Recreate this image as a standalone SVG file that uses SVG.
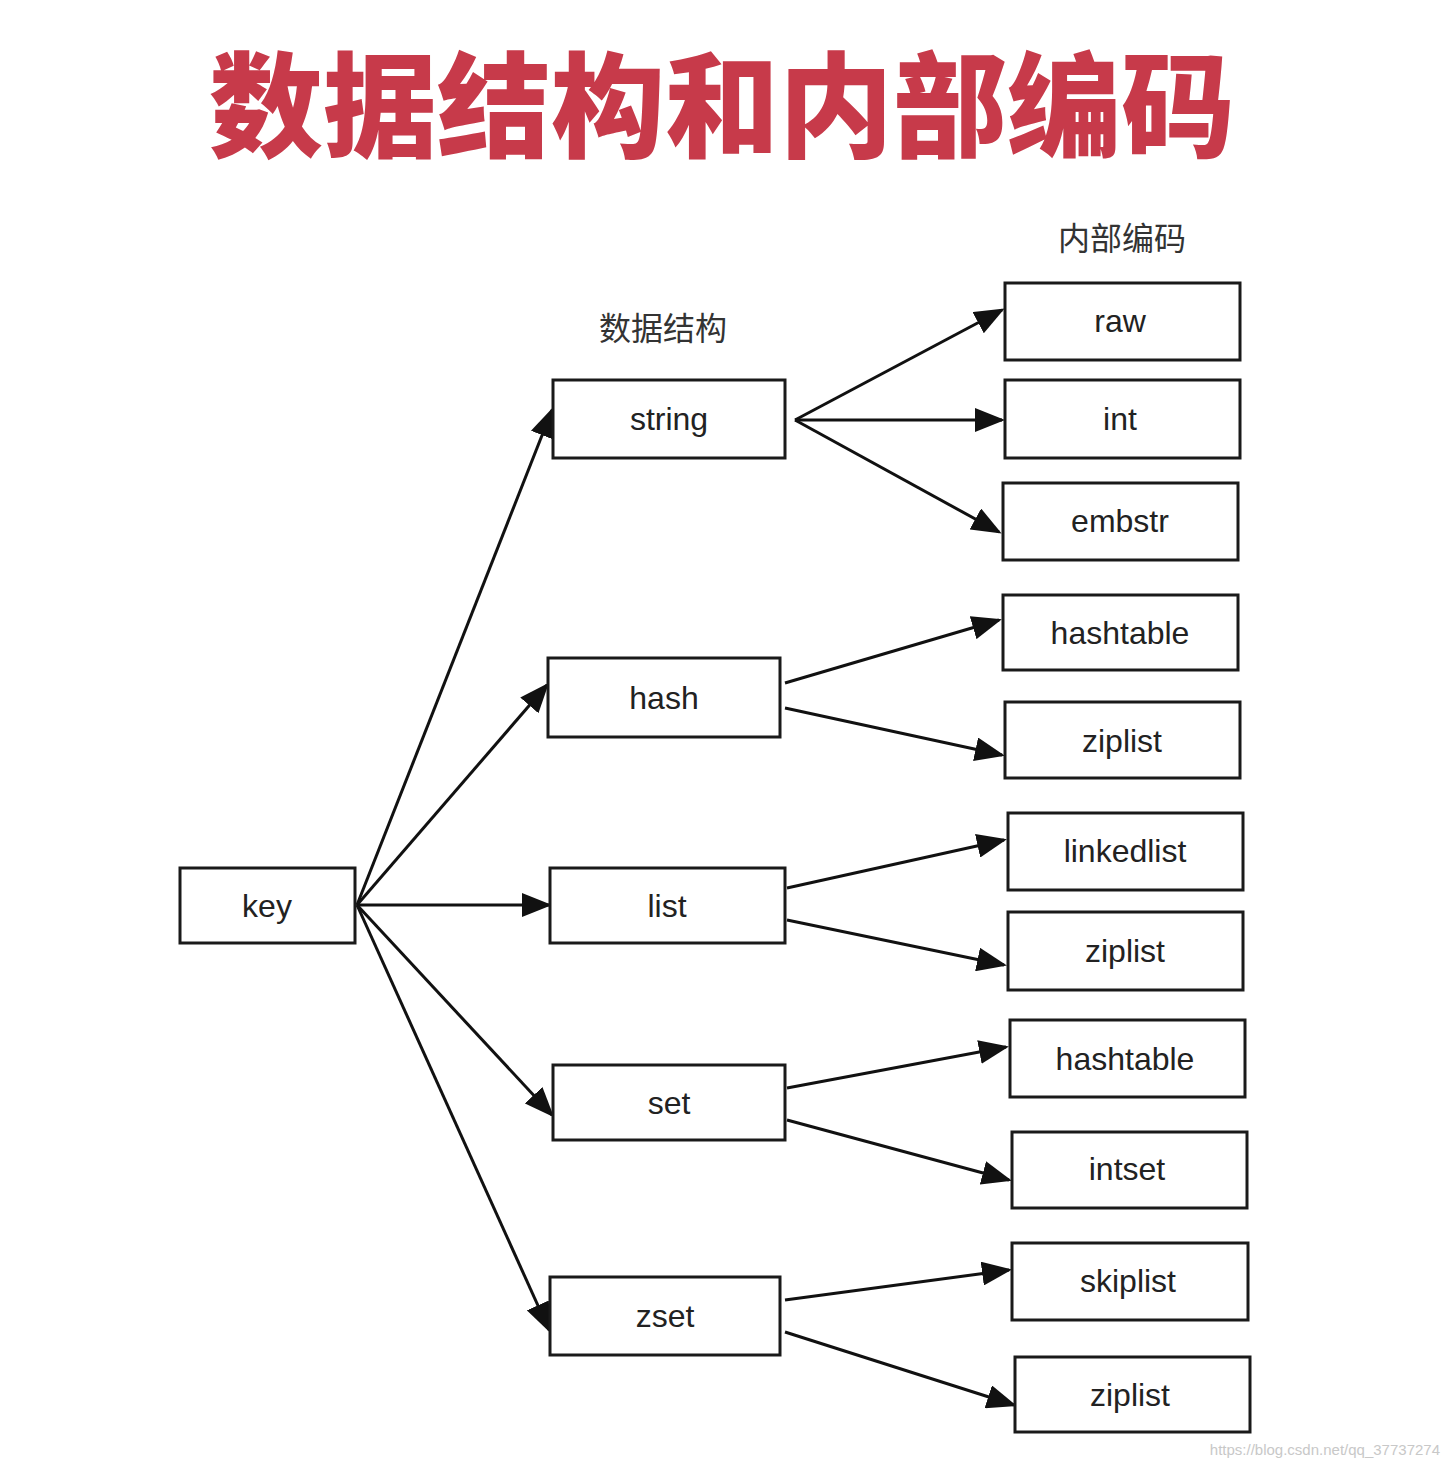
<svg xmlns="http://www.w3.org/2000/svg" width="1446" height="1468" viewBox="0 0 1446 1468">
<defs>
<marker id="ah" markerWidth="10" markerHeight="8" refX="9" refY="4" orient="auto" markerUnits="strokeWidth"><path d="M0,0 L10,4 L0,8 Z" fill="#111"/></marker>
<style>
.b{fill:#fff;stroke:#1a1a1a;stroke-width:3}
.t{font-family:"Liberation Sans",Arial,sans-serif;font-size:32px;fill:#222;text-anchor:middle}
.h{font-family:"Noto Sans CJK SC",sans-serif;font-size:32px;fill:#333;text-anchor:middle}
.c line{stroke:#111;stroke-width:3;marker-end:url(#ah)}
</style>
</defs>
<rect width="1446" height="1468" fill="#fff"/>
<text x="722" y="148" font-family="Noto Sans CJK SC,sans-serif" font-weight="900" font-size="114" fill="#c73a4a" text-anchor="middle">数据结构和内部编码</text>
<text class="h" x="1122" y="250">内部编码</text>
<text class="h" x="663" y="340">数据结构</text>
<g class="c">
<line x1="357" y1="905" x2="552" y2="410"/>
<line x1="357" y1="905" x2="547" y2="685"/>
<line x1="357" y1="905" x2="549" y2="905"/>
<line x1="357" y1="905" x2="552" y2="1115"/>
<line x1="357" y1="905" x2="549" y2="1330"/>
<line x1="795" y1="420" x2="1002" y2="310"/>
<line x1="795" y1="420" x2="1002" y2="420"/>
<line x1="795" y1="420" x2="999" y2="532"/>
<line x1="785" y1="683" x2="999" y2="620"/>
<line x1="785" y1="708" x2="1002" y2="755"/>
<line x1="787" y1="888" x2="1004" y2="840"/>
<line x1="787" y1="920" x2="1004" y2="965"/>
<line x1="787" y1="1088" x2="1006" y2="1047"/>
<line x1="787" y1="1120" x2="1009" y2="1180"/>
<line x1="785" y1="1300" x2="1009" y2="1270"/>
<line x1="785" y1="1332" x2="1014" y2="1405"/>
</g>
<g id="key"><rect class="b" x="180" y="868" width="175" height="75"/><text class="t" x="267" y="917">key</text></g>
<g id="string"><rect class="b" x="553" y="380" width="232" height="78"/><text class="t" x="669" y="430">string</text></g>
<g id="hash"><rect class="b" x="548" y="658" width="232" height="79"/><text class="t" x="664" y="709">hash</text></g>
<g id="list"><rect class="b" x="550" y="868" width="235" height="75"/><text class="t" x="667" y="917">list</text></g>
<g id="set"><rect class="b" x="553" y="1065" width="232" height="75"/><text class="t" x="669" y="1114">set</text></g>
<g id="zset"><rect class="b" x="550" y="1277" width="230" height="78"/><text class="t" x="665" y="1327">zset</text></g>
<g id="raw"><rect class="b" x="1005" y="283" width="235" height="77"/><text class="t" x="1120" y="332">raw</text></g>
<g id="int"><rect class="b" x="1005" y="380" width="235" height="78"/><text class="t" x="1120" y="430">int</text></g>
<g id="embstr"><rect class="b" x="1003" y="483" width="235" height="77"/><text class="t" x="1120" y="532">embstr</text></g>
<g id="hashtable1"><rect class="b" x="1003" y="595" width="235" height="75"/><text class="t" x="1120" y="644">hashtable</text></g>
<g id="ziplist1"><rect class="b" x="1005" y="702" width="235" height="76"/><text class="t" x="1122" y="752">ziplist</text></g>
<g id="linkedlist"><rect class="b" x="1008" y="813" width="235" height="77"/><text class="t" x="1125" y="862">linkedlist</text></g>
<g id="ziplist2"><rect class="b" x="1008" y="912" width="235" height="78"/><text class="t" x="1125" y="962">ziplist</text></g>
<g id="hashtable2"><rect class="b" x="1010" y="1020" width="235" height="77"/><text class="t" x="1125" y="1070">hashtable</text></g>
<g id="intset"><rect class="b" x="1012" y="1132" width="235" height="76"/><text class="t" x="1127" y="1180">intset</text></g>
<g id="skiplist"><rect class="b" x="1012" y="1243" width="236" height="77"/><text class="t" x="1128" y="1292">skiplist</text></g>
<g id="ziplist3"><rect class="b" x="1015" y="1357" width="235" height="75"/><text class="t" x="1130" y="1406">ziplist</text></g>
<text x="1440" y="1455" font-family="Liberation Sans,sans-serif" font-size="15" fill="#c8c8c8" text-anchor="end">https://blog.csdn.net/qq_37737274</text>
</svg>
